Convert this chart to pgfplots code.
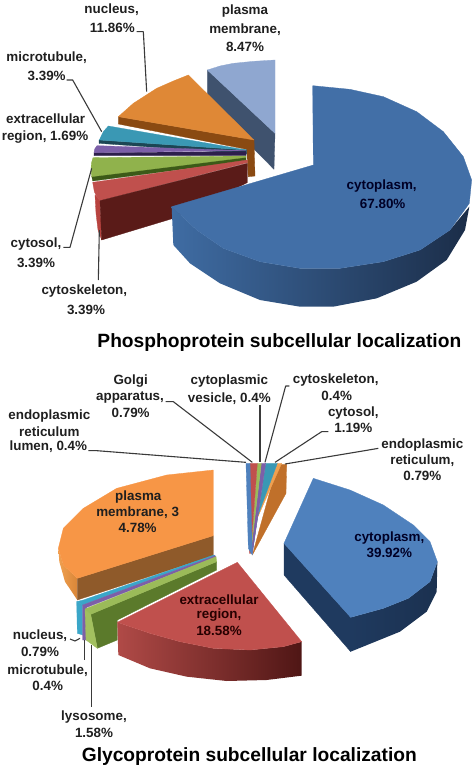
\documentclass[border=0pt]{standalone}
\usepackage{pgfplots}
\usepackage{fontspec}
\setmainfont{Liberation Sans}
\pgfplotsset{compat=1.18}
\definecolor{ln}{HTML}{3A3A3A}
\tikzset{lab/.style={font=\fontsize{13.4}{15}\selectfont\bfseries,text=black!88,inner sep=0pt,anchor=center},
 ttl/.style={font=\fontsize{19.2}{22}\selectfont\bfseries,text=black,inner sep=0pt,anchor=center}}
\pgfplotsset{base/.style={hide axis,scale only axis,width=474pt,xmin=0,xmax=1422,ymin=0,y dir=reverse,clip=false,no markers,
  every axis plot post/.append style={line join=round}},
  leader/.style={draw=ln,line width=1.1pt,fill=none,sharp plot}}
\newcommand{\dc}[1]{\definecolor{c#1}{HTML}{#1}}
\newcommand{\poly}[2]{\dc{#1}\addplot[fill=c#1,draw=c#1,line width=0.3pt] coordinates {#2} --cycle;}
\newcommand{\T}[3]{\node[lab] at (axis cs:#1,#2) {#3};}
\dc{3F6CA3}\dc{2A4D7A}\dc{1B2D48}\dc{F0A050}\dc{D98638}\dc{B04A47}\dc{8A2C2A}\dc{4F1615}\dc{1F3A5F}\dc{1B3150}
\begin{document}
\begin{tikzpicture}
\useasboundingbox (0,0) rectangle (474pt,769pt);
\begin{axis}[base,height=385pt,ymax=1155,at={(0,384pt)},anchor=south west]
% plasma membrane
\poly{3F526E}{(622,210)(825,400)(822,508)(622,305)}
\poly{8FA7D0}{(622,210)(660,198)(700,190)(760,184)(825,180)(825,400)}
% nucleus
\poly{8A4A12}{(355,350)(355,372)(740,448)(745,530)(765,528)(762,420)}
\poly{DF8836}{(355,350)(400,310)(470,265)(520,243)(565,225)(762,420)}
% teal
\poly{1C4654}{(297,420)(297,430)(740,462)(740,450)}
\poly{3A98B4}{(298,420)(310,395)(325,378)(740,450)}
% purple
\poly{2D1F4C}{(282,458)(282,467)(738,467)(738,455)}
\poly{7C5FA8}{(282,458)(284,447)(291,437)(738,452)}
% green
\poly{3C5A18}{(275,528)(278,543)(738,483)(738,470)}
\poly{90B24C}{(273,510)(274,490)(279,473)(738,468)(738,472)(275,530)}
% red
\poly{B8433F}{(285,585)(300,602)(305,720)(294,690)(288,640)}
\poly{C0504D}{(278,547)(283,575)(291,592)(300,602)(742,488)(742,480)}
\poly{5A1B18}{(300,602)(742,490)(742,548)(520,655)(305,720)}
% cytoplasm side
\addplot[draw=none,left color=c3F6CA3,middle color=c2A4D7A,right color=c1B2D48] coordinates {(515,620)(520,735)(570,790)(660,850)(780,900)(900,920)(1000,920)(1130,895)(1250,845)(1340,780)(1395,690)(1408,620)(1350,690)(1260,750)(1150,785)(1020,805)(900,805)(780,785)(670,745)(590,690)} --cycle;
\poly{426FA7}{(940,495)(938,257)(1050,268)(1150,290)(1250,335)(1330,395)(1390,470)(1415,540)(1408,610)(1350,690)(1260,750)(1150,785)(1020,805)(900,805)(780,785)(670,745)(590,690)(515,620)}
% leaders
\addplot[leader] coordinates {(410,95)(430,95)(440,275)};
\addplot[leader] coordinates {(200,240)(218,240)(305,395)};
\addplot[leader] coordinates {(190,742)(210,742)(275,505)};
\addplot[leader] coordinates {(295,840)(298,690)};
% labels
\T{335}{28}{nucleus,}\T{337}{83}{11.86\%}
\T{735}{32}{plasma}\T{735}{88}{membrane,}\T{735}{142}{8.47\%}
\T{140}{172}{microtubule,}\T{140}{228}{3.39\%}
\T{137}{355}{extracellular}\T{135}{410}{region, 1.69\%}
\node[lab,text=black!85!blue] at (axis cs:1145,557) {cytoplasm,};
\node[lab,text=black!85!blue] at (axis cs:1148,613) {67.80\%};
\T{108}{732}{cytosol,}\T{108}{788}{3.39\%}
\T{253}{873}{cytoskeleton,}\T{258}{930}{3.39\%}
\node[ttl] at (axis cs:838,1027) {Phosphoprotein subcellular localization};
\T{392}{1143}{Golgi}
\T{688}{1143}{cytoplasmic}
\T{1007}{1140}{cytoskeleton,}
\end{axis}
\begin{axis}[base,height=384pt,ymax=1152,at={(0,0)},anchor=south west]
% central wedge
\poly{C0702A}{(832,238)(860,238)(858,325)(757,510)}
\poly{F0A050}{(832,235)(845,235)(765,415)}
\poly{3A98B4}{(797,235)(832,235)(765,415)(757,505)}
\poly{7C5FA8}{(784,235)(797,235)(757,505)(752,505)}
\poly{9BBB59}{(772,235)(784,235)(752,505)}
\poly{C0504D}{(750,235)(772,235)(752,505)(748,505)}
\poly{4F81BD}{(738,235)(750,235)(757,510)(745,490)}
% plasma membrane
\addplot[draw=none,left color=cF0A050,right color=cD98638] coordinates {(175,490)(178,530)(195,590)(232,645)(232,580)(190,540)} --cycle;
\poly{8F5A2A}{(640,452)(232,580)(232,645)(640,512)}
\poly{F79646}{(640,255)(500,270)(350,310)(250,370)(190,430)(175,490)(190,540)(232,580)(640,452)}
% teal / purple / green thin slices
\poly{3AA6C8}{(230,650)(248,660)(248,750)(232,745)}
\poly{3AA6C8}{(230,650)(250,645)(642,510)(645,512)(248,660)}
\poly{7C5FA8}{(248,660)(260,665)(260,765)(248,765)}
\poly{7C5FA8}{(248,660)(645,512)(648,516)(258,668)}
\poly{5B7A2B}{(272,688)(650,530)(650,555)(352,705)(352,765)(292,790)}
\poly{A2C05F}{(255,672)(272,688)(292,790)(258,765)}
\poly{9BBB59}{(255,672)(648,515)(650,530)(272,688)}
% extracellular
\addplot[draw=none,left color=cB04A47,middle color=c8A2C2A,right color=c4F1615] coordinates {(352,712)(355,810)(450,850)(560,875)(680,888)(800,885)(905,872)(905,770)(850,785)(750,795)(640,790)(540,770)(450,745)} --cycle;
\poly{C0504D}{(712,532)(905,770)(850,785)(750,795)(640,790)(540,770)(450,745)(352,712)}
% cytoplasm
\poly{1F3A5F}{(852,475)(1052,697)(1052,800)(852,570)}
\addplot[draw=none,left color=c1F3A5F,right color=c1B3150] coordinates {(1052,697)(1150,670)(1225,640)(1290,590)(1312,530)(1310,620)(1280,680)(1200,740)(1052,800)} --cycle;
\poly{4F81BD}{(852,475)(940,280)(1050,315)(1150,360)(1240,420)(1290,470)(1312,530)(1290,590)(1225,640)(1150,670)(1052,697)}
% leaders
\addplot[leader] coordinates {(497,50)(520,50)(757,232)};
\addplot[leader] coordinates {(780,60)(780,232)};
\addplot[leader] coordinates {(868,3)(857,3)(795,232)};
\addplot[leader] coordinates {(985,140)(965,140)(825,232)};
\addplot[leader] coordinates {(1135,190)(1100,196)(855,237)};
\addplot[leader] coordinates {(265,197)(290,197)(738,232)};
\addplot[leader] coordinates {(210,762)(225,768)(240,760)};
\addplot[leader] coordinates {(253,765)(253,825)};
\addplot[leader] coordinates {(275,780)(275,965)};
% labels
\T{390}{38}{apparatus,}\T{392}{85}{0.79\%}
\T{688}{40}{vesicle, 0.4\%}
\T{1010}{33}{0.4\%}
\T{1060}{83}{cytosol,}\T{1060}{128}{1.19\%}
\T{1267}{180}{endoplasmic}\T{1267}{228}{reticulum,}\T{1267}{272}{0.79\%}
\T{148}{93}{endoplasmic}\T{148}{140}{reticulum}\T{145}{185}{lumen, 0.4\%}
\T{415}{337}{plasma}\T{413}{383}{membrane, 3}\T{413}{428}{4.78\%}
\node[lab,text=black!85!blue] at (axis cs:1168,460) {cytoplasm,};
\node[lab,text=black!85!blue] at (axis cs:1168,505) {39.92\%};
\node[lab,text=black!85!red] at (axis cs:657,643) {extracellular};
\node[lab,text=black!85!red] at (axis cs:657,690) {region,};
\node[lab,text=black!85!red] at (axis cs:657,737) {18.58\%};
\T{120}{753}{nucleus,}\T{120}{800}{0.79\%}
\T{143}{857}{microtubule,}\T{143}{903}{0.4\%}
\T{282}{997}{lysosome,}\T{282}{1043}{1.58\%}
\node[ttl] at (axis cs:748,1115) {Glycoprotein subcellular localization};
\end{axis}
\end{tikzpicture}
\end{document}
